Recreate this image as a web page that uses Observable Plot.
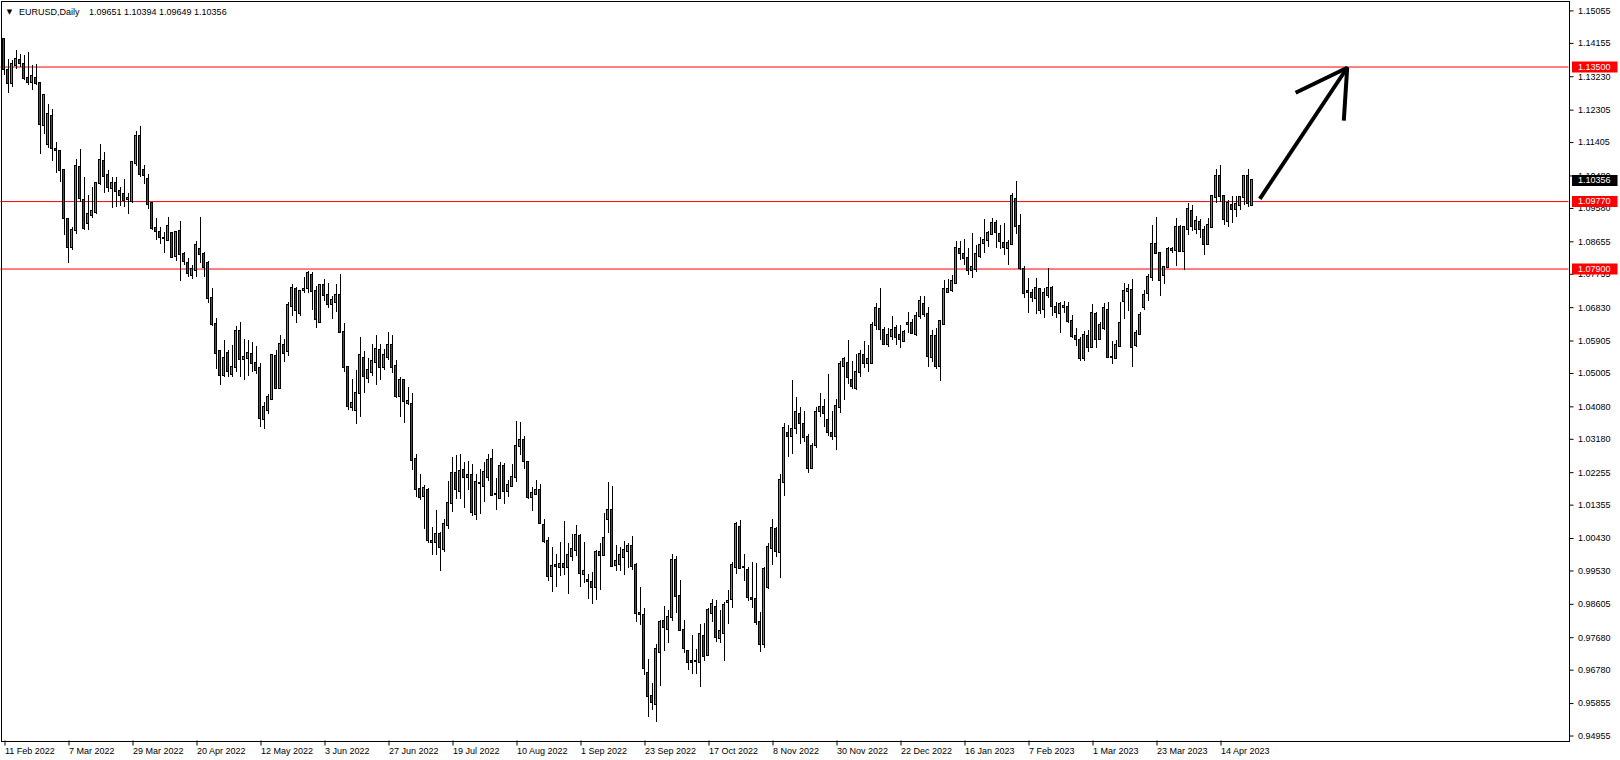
<!DOCTYPE html>
<html><head><meta charset="utf-8">
<script src="https://cdn.jsdelivr.net/npm/d3@7"></script>
<script src="https://cdn.jsdelivr.net/npm/@observablehq/plot@0.6"></script>
<style>html,body{margin:0;padding:0;background:#fff;}#chart svg{display:block;}</style>
</head><body><div id="chart"></div>
<script>
// ---- data (EURUSD daily) ----
const symbol = "EURUSD,Daily";
const firstDate = "2022-02-11";
const closedDays = ["2022-12-26"];
const open = [
1.1425,1.1340,1.1305,1.1355,1.1369,1.1356,1.1319,1.1307,1.1319,1.1303,
1.1189,1.1134,1.1212,1.1122,1.1115,1.1064,1.0927,1.0850,1.0896,1.1071,
1.0981,1.0917,1.0938,1.0947,1.1027,1.1088,1.1048,1.1014,1.1026,1.1004,
1.0996,1.0983,1.0977,1.1083,1.1157,1.1063,1.1038,1.0972,1.0902,1.0891,
1.0875,1.0870,1.0888,1.0825,1.0893,1.0830,1.0804,1.0773,1.0785,1.0844,
1.0830,1.0806,1.0709,1.0635,1.0561,1.0495,1.0557,1.0499,1.0518,1.0616,
1.0538,1.0541,1.0554,1.0529,1.0513,1.0374,1.0397,1.0428,1.0547,1.0459,
1.0579,1.0562,1.0687,1.0732,1.0668,1.0730,1.0735,1.0773,1.0728,1.0642,
1.0743,1.0718,1.0693,1.0696,1.0716,1.0613,1.0516,1.0405,1.0398,1.0444,
1.0543,1.0487,1.0504,1.0531,1.0564,1.0516,1.0545,1.0579,1.0519,1.0437,
1.0480,1.0416,1.0414,1.0263,1.0178,1.0159,1.0176,1.0035,1.0032,1.0053,
1.0013,1.0080,1.0139,1.0222,1.0174,1.0231,1.0211,1.0217,1.0109,1.0196,
1.0188,1.0211,1.0261,1.0164,1.0155,1.0244,1.0172,1.0188,1.0211,1.0299,
1.0316,1.0253,1.0157,1.0164,1.0176,1.0079,1.0034,0.9939,0.9967,0.9963,
0.9970,0.9963,0.9994,1.0011,1.0048,0.9942,0.9927,0.9922,0.9906,1.0005,
0.9995,1.0097,1.0120,0.9967,0.9972,0.9991,1.0006,1.0020,0.9969,0.9834,
0.9829,0.9670,0.9605,0.9584,0.9727,0.9813,0.9792,0.9823,0.9983,0.9883,
0.9789,0.9730,0.9703,0.9702,0.9698,0.9771,0.9720,0.9836,0.9852,0.9766,
0.9780,0.9867,0.9873,0.9963,1.0074,0.9963,0.9954,0.9877,0.9875,0.9811,
0.9748,0.9908,1.0014,1.0069,1.0005,1.0199,1.0333,1.0325,1.0347,1.0388,
1.0358,1.0322,1.0237,1.0302,1.0395,1.0407,1.0371,1.0335,1.0325,1.0405,
1.0519,1.0529,1.0482,1.0460,1.0504,1.0550,1.0528,1.0528,1.0633,1.0679,
1.0621,1.0582,1.0603,1.0624,1.0605,1.0589,1.0636,1.0638,1.0608,1.0659,
1.0693,1.0663,1.0545,1.0602,1.0520,1.0636,1.0726,1.0730,1.0750,1.0844,
1.0829,1.0820,1.0787,1.0790,1.0825,1.0862,1.0870,1.0885,1.0915,1.0887,
1.0861,1.0848,1.0859,1.0984,1.0907,1.0788,1.0727,1.0721,1.0707,1.0732,
1.0677,1.0718,1.0735,1.0684,1.0668,1.0683,1.0684,1.0645,1.0604,1.0593,
1.0543,1.0602,1.0573,1.0665,1.0596,1.0624,1.0674,1.0545,1.0543,1.0576,
1.0699,1.0727,1.0730,1.0577,1.0608,1.0684,1.0721,1.0767,1.0857,1.0832,
1.0772,1.0795,1.0842,1.0841,1.0904,1.0839,1.0899,1.0949,1.0899,1.0919,
1.0896,1.0859,1.0906,1.0989,1.1046,1.0991,1.0921,1.0967,1.0954,1.0966,
1.0989,1.1046,1.09651];
const high = [
1.1428,1.1372,1.1369,1.1395,1.1386,1.1381,1.1390,1.1355,1.1358,1.1307,
1.1271,1.1246,1.1231,1.1141,1.1118,1.1066,1.0931,1.0905,1.1095,1.1121,
1.1044,1.0993,1.1016,1.1030,1.1136,1.1113,1.1064,1.1044,1.1044,1.1016,
1.1037,1.0998,1.1084,1.1172,1.1185,1.1076,1.1053,1.0975,1.0931,1.0905,
1.0892,1.0933,1.0892,1.0894,1.0923,1.0836,1.0820,1.0801,1.0867,1.0933,
1.0836,1.0810,1.0737,1.0653,1.0564,1.0591,1.0565,1.0578,1.0630,1.0641,
1.0596,1.0591,1.0585,1.0574,1.0527,1.0419,1.0442,1.0553,1.0564,1.0605,
1.0596,1.0698,1.0747,1.0739,1.0730,1.0767,1.0784,1.0780,1.0741,1.0748,
1.0762,1.0751,1.0713,1.0747,1.0774,1.0640,1.0519,1.0483,1.0508,1.0599,
1.0561,1.0543,1.0582,1.0605,1.0580,1.0568,1.0614,1.0605,1.0536,1.0490,
1.0483,1.0462,1.0445,1.0275,1.0220,1.0189,1.0182,1.0074,1.0120,1.0060,
1.0097,1.0201,1.0268,1.0273,1.0277,1.0254,1.0256,1.0249,1.0220,1.0234,
1.0254,1.0275,1.0291,1.0208,1.0253,1.0250,1.0205,1.0248,1.0367,1.0365,
1.0325,1.0253,1.0185,1.0203,1.0192,1.0095,1.0046,1.0018,0.9998,1.0031,
1.0090,1.0028,1.0054,1.0079,1.0055,1.0032,0.9943,0.9948,1.0009,1.0028,
1.0113,1.0198,1.0187,1.0023,1.0018,1.0034,1.0028,1.0048,0.9974,0.9908,
0.9850,0.9709,0.9642,0.9749,0.9815,0.9854,0.9843,0.9998,0.9993,0.9926,
0.9815,0.9732,0.9774,0.9734,0.9804,0.9808,0.9850,0.9873,0.9871,0.9843,
0.9866,0.9898,0.9977,1.0088,1.0092,0.9998,0.9963,0.9977,0.9975,0.9838,
0.9963,1.0030,1.0095,1.0074,1.0220,1.0363,1.0356,1.0480,1.0434,1.0407,
1.0395,1.0331,1.0305,1.0405,1.0445,1.0427,1.0497,1.0395,1.0427,1.0534,
1.0545,1.0593,1.0533,1.0554,1.0564,1.0589,1.0577,1.0642,1.0695,1.0736,
1.0628,1.0624,1.0659,1.0633,1.0633,1.0619,1.0670,1.0651,1.0669,1.0713,
1.0713,1.0683,1.0620,1.0626,1.0647,1.0758,1.0762,1.0773,1.0867,1.0867,
1.0873,1.0848,1.0889,1.0855,1.0878,1.0927,1.0894,1.0930,1.0924,1.0912,
1.0915,1.0870,1.1000,1.1032,1.0940,1.0797,1.0765,1.0732,1.0765,1.0737,
1.0737,1.0791,1.0742,1.0696,1.0698,1.0699,1.0698,1.0662,1.0626,1.0601,
1.0617,1.0621,1.0691,1.0670,1.0642,1.0695,1.0698,1.0589,1.0593,1.0698,
1.0750,1.0748,1.0760,1.0619,1.0670,1.0730,1.0776,1.0912,1.0933,1.0836,
1.0797,1.0849,1.0850,1.0930,1.0910,1.0906,1.0972,1.0966,1.0936,1.0926,
1.0908,1.0930,1.0995,1.1067,1.1076,1.0995,1.0979,1.0991,1.0991,1.0991,
1.1049,1.1065,1.10394];
const low = [
1.1326,1.1277,1.1294,1.1344,1.1349,1.1314,1.1298,1.1286,1.1298,1.1107,
1.1164,1.1125,1.1088,1.1055,1.1030,1.0882,1.0804,1.0841,1.0885,1.0975,
1.0898,1.0898,1.0929,1.0942,1.1021,1.0998,1.1001,1.0959,1.0961,1.0963,
1.0961,1.0942,1.0972,1.1073,1.1045,1.1024,1.0956,1.0896,1.0870,1.0859,
1.0833,1.0866,1.0820,1.0812,1.0756,1.0800,1.0767,1.0760,1.0767,1.0804,
1.0767,1.0695,1.0632,1.0512,1.0468,1.0490,1.0488,1.0490,1.0504,1.0490,
1.0482,1.0492,1.0504,1.0497,1.0351,1.0346,1.0386,1.0425,1.0457,1.0457,
1.0530,1.0547,1.0659,1.0639,1.0658,1.0721,1.0721,1.0675,1.0626,1.0639,
1.0700,1.0681,1.0651,1.0670,1.0610,1.0504,1.0399,1.0395,1.0358,1.0379,
1.0444,1.0473,1.0492,1.0467,1.0481,1.0508,1.0536,1.0501,1.0430,1.0379,
1.0362,1.0411,1.0231,1.0157,1.0148,1.0069,1.0030,0.9996,0.9995,0.9952,
1.0005,1.0069,1.0115,1.0152,1.0152,1.0127,1.0176,1.0103,1.0092,1.0109,
1.0143,1.0201,1.0159,1.0120,1.0152,1.0137,1.0157,1.0185,1.0199,1.0273,
1.0235,1.0151,1.0118,1.0162,1.0083,1.0028,0.9924,0.9894,0.9908,0.9937,
0.9940,0.9889,0.9980,0.9994,0.9908,0.9919,0.9873,0.9861,0.9872,0.9898,
0.9994,1.0058,0.9963,0.9952,0.9952,0.9940,0.9961,0.9954,0.9811,0.9801,
0.9663,0.9547,0.9566,0.9533,0.9633,0.9730,0.9751,0.9812,0.9834,0.9785,
0.9723,0.9678,0.9667,0.9666,0.9629,0.9702,0.9715,0.9811,0.9755,0.9752,
0.9702,0.9804,0.9848,0.9943,0.9956,0.9923,0.9869,0.9850,0.9801,0.9727,
0.9739,0.9903,0.9968,0.9991,0.9933,1.0159,1.0268,1.0275,1.0330,1.0303,
1.0309,1.0222,1.0233,1.0293,1.0379,1.0351,1.0326,1.0316,1.0286,1.0390,
1.0425,1.0470,1.0457,1.0453,1.0490,1.0513,1.0504,1.0527,1.0619,1.0591,
1.0580,1.0573,1.0593,1.0577,1.0571,1.0585,1.0610,1.0608,1.0603,1.0650,
1.0655,1.0517,1.0530,1.0511,1.0479,1.0633,1.0723,1.0725,1.0748,1.0813,
1.0799,1.0771,1.0764,1.0781,1.0820,1.0832,1.0850,1.0882,1.0848,1.0843,
1.0827,1.0799,1.0855,1.0887,1.0785,1.0707,1.0667,1.0698,1.0663,1.0663,
1.0654,1.0709,1.0659,1.0653,1.0610,1.0668,1.0638,1.0598,1.0576,1.0534,
1.0533,1.0559,1.0571,1.0570,1.0593,1.0621,1.0543,1.0524,1.0539,1.0573,
1.0649,1.0672,1.0516,1.0573,1.0605,1.0674,1.0700,1.0756,1.0829,1.0713,
1.0746,1.0792,1.0834,1.0796,1.0836,1.0787,1.0882,1.0893,1.0885,1.0875,
1.0827,1.0855,1.0903,1.0972,1.0975,1.0910,1.0906,1.0915,1.0933,1.0952,
1.0966,1.0961,1.09649];
const close = [
1.1344,1.1305,1.1356,1.1372,1.1361,1.1319,1.1307,1.1325,1.1303,1.1192,
1.1270,1.1217,1.1123,1.1118,1.1064,1.0929,1.0850,1.0896,1.1074,1.0986,
1.0901,1.0942,1.0949,1.1028,1.1090,1.1047,1.1016,1.1026,1.1005,1.0995,
1.0981,1.0985,1.1084,1.1157,1.1053,1.1048,1.0970,1.0903,1.0894,1.0878,
1.0876,1.0907,1.0822,1.0891,1.0829,1.0811,1.0779,1.0789,1.0855,1.0830,
1.0795,1.0709,1.0635,1.0557,1.0495,1.0541,1.0505,1.0518,1.0616,1.0538,
1.0544,1.0557,1.0529,1.0510,1.0377,1.0405,1.0433,1.0549,1.0459,1.0582,
1.0557,1.0690,1.0735,1.0676,1.0729,1.0733,1.0779,1.0728,1.0651,1.0743,
1.0718,1.0693,1.0702,1.0716,1.0614,1.0516,1.0408,1.0416,1.0446,1.0549,
1.0493,1.0510,1.0533,1.0568,1.0517,1.0549,1.0579,1.0517,1.0437,1.0482,
1.0423,1.0422,1.0260,1.0179,1.0157,1.0183,1.0037,1.0032,1.0055,1.0019,
1.0083,1.0141,1.0222,1.0179,1.0228,1.0213,1.0217,1.0115,1.0198,1.0195,
1.0225,1.0259,1.0162,1.0165,1.0244,1.0174,1.0191,1.0211,1.0298,1.0316,
1.0257,1.0157,1.0169,1.0176,1.0086,1.0035,0.9939,0.9965,0.9966,0.9972,
0.9963,0.9995,1.0012,1.0050,0.9945,0.9951,0.9925,0.9906,1.0005,0.9997,
1.0044,1.0120,0.9965,0.9979,0.9995,1.0009,1.0022,0.9966,0.9834,0.9831,
0.9683,0.9605,0.9589,0.9734,0.9811,0.9797,0.9823,0.9983,0.9883,0.9789,
0.9737,0.9700,0.9700,0.9703,0.9776,0.9717,0.9843,0.9860,0.9769,0.9785,
0.9857,0.9869,0.9968,1.0081,0.9960,0.9964,0.9880,0.9873,0.9811,0.9748,
0.9956,1.0019,1.0072,1.0007,1.0205,1.0349,1.0325,1.0344,1.0391,1.0362,
1.0322,1.0238,1.0299,1.0393,1.0407,1.0390,1.0338,1.0325,1.0408,1.0525,
1.0538,1.0490,1.0465,1.0504,1.0554,1.0528,1.0538,1.0633,1.0681,1.0623,
1.0582,1.0607,1.0621,1.0601,1.0596,1.0613,1.0638,1.0610,1.0659,1.0700,
1.0665,1.0547,1.0602,1.0520,1.0644,1.0733,1.0733,1.0755,1.0848,1.0832,
1.0820,1.0787,1.0793,1.0830,1.0855,1.0870,1.0888,1.0915,1.0890,1.0867,
1.0851,1.0861,1.0990,1.0908,1.0792,1.0723,1.0724,1.0711,1.0737,1.0676,
1.0723,1.0735,1.0685,1.0670,1.0693,1.0685,1.0644,1.0603,1.0594,1.0543,
1.0605,1.0573,1.0668,1.0596,1.0633,1.0681,1.0545,1.0546,1.0579,1.0638,
1.0727,1.0733,1.0573,1.0610,1.0662,1.0718,1.0767,1.0857,1.0832,1.0757,
1.0795,1.0845,1.0845,1.0904,1.0839,1.0904,1.0954,1.0907,1.0921,1.0899,
1.0859,1.0912,1.0991,1.1046,1.0991,1.0926,1.0973,1.0954,1.0968,1.0987,
1.1046,1.0973,1.10356];
const tickDates = ["2022-02-11","2022-03-07","2022-03-29","2022-04-20","2022-05-12","2022-06-03","2022-06-27","2022-07-19","2022-08-10","2022-09-01","2022-09-23","2022-10-17","2022-11-08","2022-11-30","2022-12-22","2023-01-16","2023-02-07","2023-03-01","2023-03-23","2023-04-14"];
const priceTicks = [1.15055,1.14155,1.13230,1.12305,1.11405,1.10480,1.09580,1.08655,1.07755,1.06830,1.05905,1.05005,1.04080,1.03180,1.02255,1.01355,1.00430,0.99530,0.98605,0.97680,0.96780,0.95855,0.94955];
const levels = [1.13500, 1.09770, 1.07900];
// hand-drawn arrow, in (bar number, price)
const arrowShaft = [{i: 313.95, p: 1.09847}, {i: 335.8, p: 1.1348}];
const arrowHead = [{i: 322.9, p: 1.12785}, {i: 335.8, p: 1.1348}, {i: 334.95, p: 1.12017}];

// ---- build ----
const dates = [];
for (let d = new Date(firstDate + "T00:00:00Z"); dates.length < close.length; d.setUTCDate(d.getUTCDate() + 1)) {
  const wd = d.getUTCDay(), s = d.toISOString().slice(0, 10);
  if (wd > 0 && wd < 6 && !closedDays.includes(s)) dates.push(s);
}
const bars = close.map((c, i) => ({i, o: open[i], h: high[i], l: low[i], c, up: c >= open[i]}));
const last = bars[bars.length - 1];
const fmt5 = d3.format(".5f");
const dateFmt = d3.utcFormat("%-d %b %Y");
const tickIdx = tickDates.map(d => dates.indexOf(d));
const headerValues = [last.o, last.h, last.l, last.c].map(fmt5).join(" ");
const bull = "#2db42d", bear = "#ff0000";
const font = "'Liberation Sans', Arial, sans-serif";

const chart = Plot.plot({
  width: 1620, height: 760,
  marginLeft: 0.5, marginRight: 51.5, marginTop: 0.5, marginBottom: 19.5,
  style: {fontFamily: font, fontSize: "9px", background: "#fff", color: "#000", overflow: "visible"},
  x: {type: "linear", domain: [-0.75, 391.25], axis: null},
  y: {type: "linear", domain: [0.94817, 1.15330], axis: null},
  marks: [
    Plot.ruleY(levels, {stroke: "#ff0000", strokeWidth: 1}),
    Plot.ruleX(bars, {x: "i", y1: "l", y2: "h", stroke: "#000", strokeWidth: 1, shapeRendering: "crispEdges"}),
    Plot.rect(bars.filter(d => d.up), {x1: d => d.i - 0.25, x2: d => d.i + 0.25, y1: "o", y2: "c", fill: bull, stroke: "#000", strokeWidth: 1, insetTop: -0.5, insetBottom: -0.5, shapeRendering: "crispEdges"}),
    Plot.rect(bars.filter(d => !d.up), {x1: d => d.i - 0.25, x2: d => d.i + 0.25, y1: "o", y2: "c", fill: bear, stroke: "#000", strokeWidth: 1, insetTop: -0.5, insetBottom: -0.5, shapeRendering: "crispEdges"}),
    Plot.line(arrowShaft, {x: "i", y: "p", stroke: "#000", strokeWidth: 4, strokeLinecap: "butt"}),
    Plot.line(arrowHead, {x: "i", y: "p", stroke: "#000", strokeWidth: 4, strokeLinecap: "butt", strokeLinejoin: "miter"}),
    Plot.frame({stroke: "#000", shapeRendering: "crispEdges"}),
    Plot.axisY(priceTicks, {anchor: "right", tickSize: 4, tickPadding: 5, tickFormat: fmt5, label: null, fontSize: 9, fontFamily: font}),
    Plot.axisX(tickIdx, {anchor: "bottom", tickSize: 5, tickPadding: 2, tickFormat: i => dateFmt(new Date(dates[i] + "T00:00:00Z")), label: null, textAnchor: "start", dx: 1, fontSize: 9, fontFamily: font}),
    Plot.tickY(levels, {y: d => d, stroke: "#ff0000", strokeWidth: 11, insetLeft: 1571.5, insetRight: -49}),
    Plot.text(levels, {y: d => d, text: d => fmt5(d), frameAnchor: "right", dx: 9, textAnchor: "start", fill: "#fff", fontSize: 9, fontFamily: font}),
    Plot.tickY([last.c], {y: d => d, stroke: "#000", strokeWidth: 11, insetLeft: 1571.5, insetRight: -49}),
    Plot.text([last.c], {y: d => d, text: d => fmt5(d), frameAnchor: "right", dx: 9, textAnchor: "start", fill: "#fff", fontSize: 9, fontFamily: font}),
    Plot.text(["\u25BC"], {frameAnchor: "top-left", dx: 8.5, dy: 11, lineAnchor: "middle", textAnchor: "middle", fontSize: 7, fontFamily: "DejaVu Sans"}),
    Plot.text([symbol], {frameAnchor: "top-left", dx: 18, dy: 11, lineAnchor: "middle", textAnchor: "start", fontSize: 9, fontFamily: font}),
    Plot.text([headerValues], {frameAnchor: "top-left", dx: 88, dy: 11, lineAnchor: "middle", textAnchor: "start", fontSize: 9, fontFamily: font})
  ]
});
document.getElementById("chart").appendChild(chart);
</script>
</body></html>
